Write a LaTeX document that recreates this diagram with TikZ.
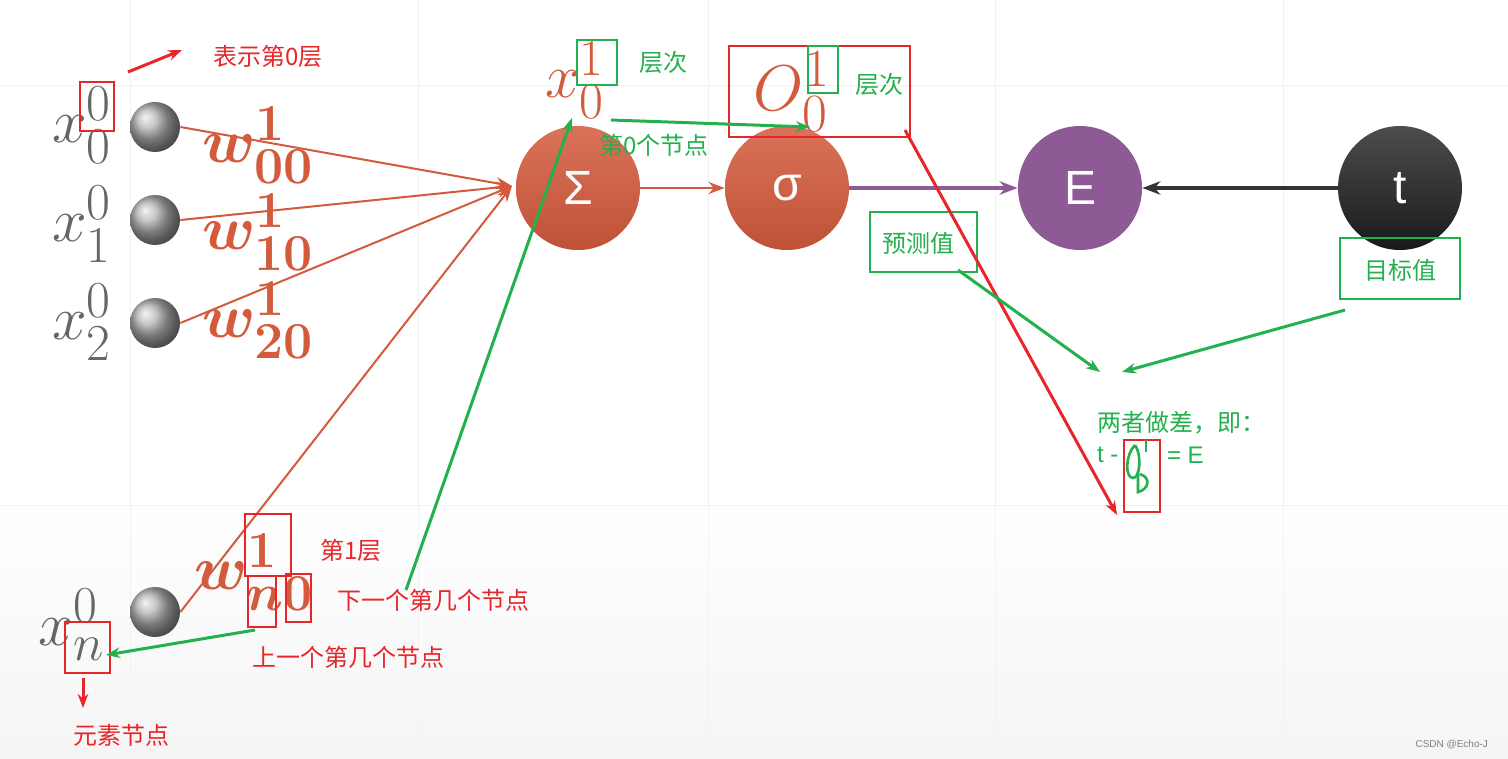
\documentclass[tikz,border=0pt]{standalone}
\usepackage{amsmath}
\usepackage{fontspec}
\newfontfamily\cjk{Noto Sans CJK SC}
\setsansfont{Liberation Sans}
\usetikzlibrary{arrows.meta}
\definecolor{wred}{HTML}{D45A3C}
\definecolor{mred}{HTML}{E8262A}
\definecolor{mgreen}{HTML}{22B14C}
\definecolor{epur}{HTML}{8E5A96}
\definecolor{lgray}{HTML}{666666}
\tikzset{
 inp/.style={circle,minimum size=25pt,inner sep=0,shading=ball,ball color=gray!60},
 big/.style={circle,minimum size=62pt,inner sep=0,text=white,font=\sffamily\fontsize{24}{24}\selectfont},
 xl/.style={text=lgray,font=\Huge,scale=1.25,inner sep=0},
 wl/.style={text=wred,font=\Huge,scale=1.25,inner sep=0},
 rbox/.style={draw=mred,line width=1.2pt},
 gbox/.style={draw=mgreen,line width=1.2pt},
 rt/.style={text=mred,font=\cjk\fontsize{12}{12}\selectfont},
 gt/.style={text=mgreen,font=\cjk\fontsize{12}{12}\selectfont},
 ra/.style={draw=mred,line width=1.5pt,-{Stealth[length=7pt]}},
 ga/.style={draw=mgreen,line width=1.5pt,-{Stealth[length=7pt]}},
 wa/.style={draw=wred,line width=1pt,-{Stealth[length=8pt]}},
}
\begin{document}
\begin{tikzpicture}[x=0.5pt,y=-0.5pt]
\shade[top color=white,bottom color=white] (0,0) rectangle (1508,500);
\shade[top color=white,bottom color=gray!8] (0,500) rectangle (1508,759);
\useasboundingbox (0,0) rectangle (1508,759);
\foreach \x in {130,418,708,995,1283} \draw[gray!10] (\x,0) -- (\x,759);
\foreach \y in {85,505} \draw[gray!10] (0,\y) -- (1508,\y);
% inputs
\node[inp] (i0) at (155,127) {};
\node[inp] (i1) at (155,220) {};
\node[inp] (i2) at (155,323) {};
\node[inp] (in) at (155,612) {};
\node[xl] (x0) at (82,125) {$x_0^0$};
\node[xl] (x1) at (82,224) {$x_1^0$};
\node[xl] (x2) at (82,322) {$x_2^0$};
\node[xl] (xn) at (72,625) {$x_n^0$};
\node[wl] (w0) at (258,145) {$\boldsymbol{w_{00}^1}$};
\node[wl] (w1) at (258,232) {$\boldsymbol{w_{10}^1}$};
\node[wl] (w2) at (258,320) {$\boldsymbol{w_{20}^1}$};
\node[wl] (wn) at (254,572) {$\boldsymbol{w_{n0}^1}$};
% big nodes
\node[big,shading=axis,top color=wred!85!white,bottom color=wred!90!black] (sum) at (578,188) {Σ};
\node[big,shading=axis,top color=wred!85!white,bottom color=wred!90!black] (sig) at (787,188) {σ};
\node[big,fill=epur] (E) at (1080,188) {E};
\node[big,shading=axis,top color=black!70,bottom color=black!90] (t) at (1400,188) {t};
\coordinate (sin) at (512,186);
\foreach \s in {i0,i1,i2,in} \draw[wa] (\s.east) -- (sin);
\draw[wa] (sum) -- (sig);
\draw[draw=epur,line width=2pt,-{Stealth[length=9pt]}] (sig) -- (E);
\draw[draw=black!80,line width=2pt,-{Stealth[length=9pt]}] (t) -- (E);
\node[text=wred,font=\Huge,scale=1.25,inner sep=0] (x01) at (575,80) {$x_0^1$};
\node[text=wred,font=\Huge,scale=1.3,inner sep=0] (o01) at (792,92) {$O_0^1$};
% boxes
\draw[rbox] (80,82) rectangle (114,131);
\draw[rbox] (729,46) rectangle (910,137);
\draw[rbox] (1124,440) rectangle (1160,512);
\draw[rbox] (245,514) rectangle (291,576);
\draw[rbox] (248,576) rectangle (276,627);
\draw[rbox] (286,574) rectangle (311,622);
\draw[rbox] (65,622) rectangle (110,673);
\draw[gbox] (577,40) rectangle (617,85);
\draw[gbox] (808,46) rectangle (838,93);
\draw[gbox] (870,212) rectangle (977,272);
\draw[gbox] (1340,238) rectangle (1460,299);
% texts
\node[rt,anchor=west] (r1) at (206,56) {表示第0层};
\node[rt,anchor=west] (r2) at (313,550) {第1层};
\node[rt,anchor=west] (r3) at (330,600) {下一个第几个节点};
\node[rt,anchor=west] (r4) at (245,657) {上一个第几个节点};
\node[rt,anchor=west] (r5) at (66,735) {元素节点};
\node[gt,anchor=west] (g1) at (632,62) {层次};
\node[gt,anchor=west] (g2) at (848,84) {层次};
\node[gt,anchor=west] (g3) at (592,145) {第0个节点};
\node[gt] (g4) at (918,243) {预测值};
\node[gt] (g5) at (1400,270) {目标值};
\node[gt,anchor=west] (g6) at (1090,423) {两者做差，即：};
\node[gt,anchor=west,font=\sffamily\fontsize{12}{12}\selectfont] (g7) at (1090,455) {t -};
\node[gt,anchor=west,font=\sffamily\fontsize{12}{12}\selectfont] (g8) at (1160,455) {= E};
\draw[mgreen,line width=1.3pt] (1135,445) .. controls (1125,455) and (1125,478) .. (1133,478) .. controls (1140,478) and (1142,455) .. (1135,445);
\draw[mgreen,line width=1.3pt] (1146,440) -- (1146,452);
\draw[mgreen,line width=1.3pt] (1138,472) -- (1138,492) .. controls (1148,490) and (1152,478) .. (1140,474);
\node[text=gray,font=\sffamily\fontsize{5}{5}\selectfont,anchor=east] (wm) at (1495,745) {CSDN @Echo-J};
% annotation arrows
\coordinate (a1) at (128,72); \coordinate (a2) at (182,50);
\draw[ra] (a1) -- (a2);
\coordinate (b1) at (83,678); \coordinate (b2) at (83,708);
\draw[ra] (b1) -- (b2);
\coordinate (c1) at (905,130); \coordinate (c2) at (1117,515);
\draw[ra] (c1) -- (c2);
\coordinate (d1) at (611,120); \coordinate (d2) at (810,127);
\draw[ga] (d1) -- (d2);
\coordinate (e1) at (958,270); \coordinate (e2) at (1100,372);
\draw[ga] (e1) -- (e2);
\coordinate (f1) at (1345,310); \coordinate (f2) at (1122,372);
\draw[ga] (f1) -- (f2);
\coordinate (h1) at (406,590); \coordinate (h2) at (572,118);
\draw[ga] (h1) -- (h2);
\coordinate (k1) at (255,630); \coordinate (k2) at (106,655);
\draw[ga] (k1) -- (k2);
\end{tikzpicture}
\end{document}
